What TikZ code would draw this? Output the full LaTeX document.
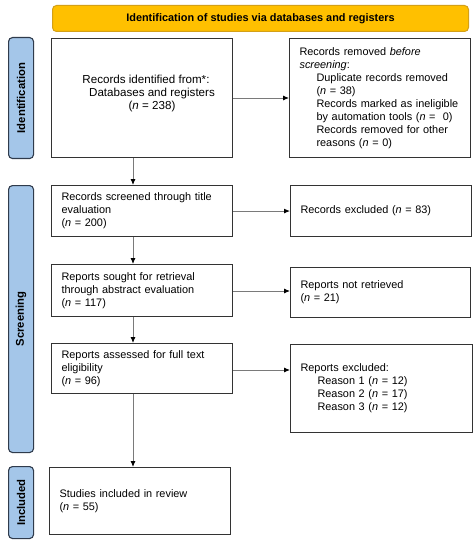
\documentclass[tikz,border=0pt]{standalone}
\usepackage{fontspec}
\setmainfont{Liberation Sans}
\usetikzlibrary{arrows.meta}
\definecolor{hdrfill}{HTML}{FFC000}
\definecolor{hdrline}{HTML}{D4A017}
\definecolor{sidefill}{HTML}{A4C6E9}
\definecolor{sideline}{HTML}{2F3B4C}
\definecolor{boxline}{HTML}{333333}
\definecolor{arrline}{HTML}{7A7A7A}
\tikzset{
  flowbox/.style={draw=boxline, line width=1.1pt, rectangle, inner sep=0pt, anchor=north west},
  boxtext/.style={flowbox, font=\fontsize{10.9}{13}\selectfont, align=left, inner xsep=10pt},
  sidebox/.style={draw=sideline, fill=sidefill, line width=1.1pt, rounded corners=4pt, anchor=north west, inner sep=0pt},
  sidetext/.style={font=\bfseries\fontsize{11.3}{12}\selectfont, rotate=90},
  flowarrow/.style={draw=arrline, line width=0.9pt, -{Latex[length=6pt,width=5pt,black]}},
}
\begin{document}
\begin{tikzpicture}[x=1pt,y=-1pt]
\useasboundingbox (0,0) rectangle (474,540);
\fill[white] (0,0) rectangle (474,540);
% header
\node[draw=hdrline, fill=hdrfill, line width=1pt, rounded corners=4pt, anchor=north west, minimum width=416pt, minimum height=26pt, inner sep=0pt, font=\bfseries\fontsize{10.9}{12}\selectfont] (hdr) at (52,5) {Identification of studies via databases and registers};
% side labels
\node[sidebox, minimum width=25pt, minimum height=121pt] (sid) at (8,37) {};
\node[sidetext] (sidt) at (sid.center) {Identification};
\node[sidebox, minimum width=25pt, minimum height=267pt] (ssc) at (8,185) {};
\node[sidetext] (ssct) at (ssc.center) {Screening};
\node[sidebox, minimum width=25pt, minimum height=72pt] (sin) at (8,466) {};
\node[sidetext] (sint) at (sin.center) {Included};
% left column
\node[flowbox, minimum width=181pt, minimum height=119pt] (b1) at (51,38) {};
\node[font=\fontsize{11.6}{13}\selectfont, align=center] (b1t) at (146,93) {Records identified from*:\\ \hspace*{12pt}Databases and registers\\ \hspace*{12pt}(\textit{n} = 238)};
\node[boxtext, text width=161pt, minimum height=51pt] (b2) at (51,185) {Records screened through title\\evaluation\\(\textit{n} = 200)};
\node[boxtext, text width=161pt, minimum height=52pt] (b3) at (51,264) {Reports sought for retrieval\\through abstract evaluation\\(\textit{n} = 117)};
\node[boxtext, text width=161pt, minimum height=50pt] (b4) at (51,343) {Reports assessed for full text\\eligibility\\(\textit{n} = 96)};
\node[boxtext, text width=161pt, minimum height=67pt] (b5) at (49,467) {Studies included in review\\(\textit{n} = 55)};
% right column
\node[boxtext, text width=161pt, minimum height=119pt] (r1) at (289,38) {Records removed \textit{before}\\\textit{screening}:\\
\hspace*{17pt}Duplicate records removed\\
\hspace*{17pt}(\textit{n} = 38)\\
\hspace*{17pt}Records marked as ineligible\\
\hspace*{17pt}by automation tools (\textit{n} =~~0)\\
\hspace*{17pt}Records removed for other\\
\hspace*{17pt}reasons (\textit{n} = 0)};
\node[boxtext, text width=161pt, minimum height=51pt] (r2) at (290,185) {Records excluded (\textit{n} = 83)};
\node[boxtext, text width=160pt, minimum height=50pt] (r3) at (290,267) {Reports not retrieved\\(\textit{n} = 21)};
\node[boxtext, text width=162pt, minimum height=88pt] (r4) at (290,344) {Reports excluded:\\
\hspace*{17pt}Reason 1 (\textit{n} = 12)\\
\hspace*{17pt}Reason 2 (\textit{n} = 17)\\
\hspace*{17pt}Reason 3 (\textit{n} = 12)};
% arrows
\coordinate (x0) at (133,0);
\draw[flowarrow] (b1.south -| x0) -- (b2.north -| x0);
\draw[flowarrow] (b2.south -| x0) -- (b3.north -| x0);
\draw[flowarrow] (b3.south -| x0) -- (b4.north -| x0);
\draw[flowarrow] (b4.south -| x0) -- (b5.north -| x0);
\coordinate (y1) at (0,98);
\draw[flowarrow] (b1.east |- y1) -- (r1.west |- y1);
\draw[flowarrow] (b2.east) -- (r2.west |- b2.east);
\draw[flowarrow] (b3.east |- 0,291) -- (r3.west |- 0,291);
\draw[flowarrow] (b4.east |- 0,370) -- (r4.west |- 0,370);
\end{tikzpicture}
\end{document}
